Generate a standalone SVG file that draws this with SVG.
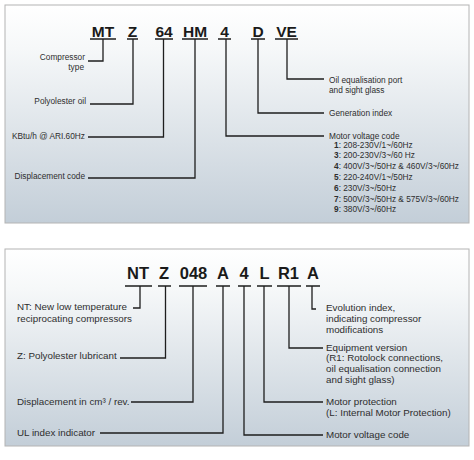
<svg xmlns="http://www.w3.org/2000/svg" width="474" height="460" viewBox="0 0 474 460">
<defs>
<linearGradient id="bg" x1="0" y1="0" x2="0" y2="1">
<stop offset="0" stop-color="#ffffff"/>
<stop offset="0.2" stop-color="#f6f8f9"/>
<stop offset="1" stop-color="#c3ced8"/>
</linearGradient>
<style>
.panel{fill:url(#bg);stroke:#b4b4b4;stroke-width:1}
.code{font-family:"Liberation Sans",Arial,sans-serif;font-weight:bold;fill:#1a1a1a;text-anchor:middle}
.c1{font-size:15.5px}
.c2{font-size:16.5px}
.lab{font-family:"Liberation Sans",Arial,sans-serif;fill:#2e2e2e}
.l1{font-size:8.3px}
.l2{font-size:9.8px}
.r{text-anchor:end}
.b{font-weight:bold}
.ln{fill:none;stroke:#1e1e1e;stroke-width:1.3}
</style>
</defs>
<rect x="0" y="0" width="474" height="460" fill="#ffffff"/>
<rect class="panel" x="5" y="5" width="464" height="218"/>
<rect class="panel" x="5" y="249" width="464" height="197"/>

<g id="connectors">
<path class="ln" d="M90 39H116 M127 39H138 M155 39H173 M182 39H208 M218 39H231 M251 39H265 M275 39H298"/>
<path class="ln" d="M103 39V61H88"/>
<path class="ln" d="M133 39V104H90"/>
<path class="ln" d="M163.5 39V137H88"/>
<path class="ln" d="M195 39V178H88"/>
<path class="ln" d="M226 39V136H324"/>
<path class="ln" d="M258 39V113H324"/>
<path class="ln" d="M287 39V79H324"/>
<path class="ln" d="M125 286H152 M158 286H171 M179 286H207 M216 286H230 M238 286H251 M257 286H272 M277 286H301 M306 286H320"/>
<path class="ln" d="M140 286V308H133"/>
<path class="ln" d="M165.5 286V358H120"/>
<path class="ln" d="M193 286V402H131"/>
<path class="ln" d="M223 286V433H100"/>
<path class="ln" d="M244 286V435H323"/>
<path class="ln" d="M264 286V402H323"/>
<path class="ln" d="M289 286V348H323"/>
<path class="ln" d="M312 286V309H316"/>
</g>

<g id="code-MT"><text class="code c1" x="103" y="37">MT</text></g>
<g id="code-Z"><text class="code c1" x="132.5" y="37">Z</text></g>
<g id="code-64"><text class="code c1" x="164" y="37">64</text></g>
<g id="code-HM"><text class="code c1" x="195" y="37">HM</text></g>
<g id="code-4"><text class="code c1" x="224.5" y="37">4</text></g>
<g id="code-D"><text class="code c1" x="258" y="37">D</text></g>
<g id="code-VE"><text class="code c1" x="286.5" y="37">VE</text></g>

<g id="label-compressor-type"><text class="lab l1 r" x="85" y="60">Compressor</text><text class="lab l1 r" x="84" y="70">type</text></g>
<g id="label-polyolester-oil"><text class="lab l1 r" x="86" y="104">Polyolester oil</text></g>
<g id="label-kbtu"><text class="lab l1 r" x="85" y="139">KBtu/h @ ARI.60Hz</text></g>
<g id="label-displacement-code"><text class="lab l1 r" x="85" y="179">Displacement code</text></g>
<g id="label-oil-eq"><text class="lab l1" x="329" y="83">Oil equalisation port</text><text class="lab l1" x="329" y="92.5">and sight glass</text></g>
<g id="label-generation"><text class="lab l1" x="329" y="116">Generation index</text></g>
<g id="label-motor-voltage">
<text class="lab l1" x="329" y="139">Motor voltage code</text>
<text class="lab l1" x="334" y="147.5"><tspan class="b">1</tspan>: 208-230V/1~/60Hz</text>
<text class="lab l1" x="334" y="158.3"><tspan class="b">3</tspan>: 200-230V/3~/60 Hz</text>
<text class="lab l1" x="334" y="169.1"><tspan class="b">4</tspan>: 400V/3~/50Hz &amp; 460V/3~/60Hz</text>
<text class="lab l1" x="334" y="179.9"><tspan class="b">5</tspan>: 220-240V/1~/50Hz</text>
<text class="lab l1" x="334" y="190.7"><tspan class="b">6</tspan>: 230V/3~/50Hz</text>
<text class="lab l1" x="334" y="201.5"><tspan class="b">7</tspan>: 500V/3~/50Hz &amp; 575V/3~/60Hz</text>
<text class="lab l1" x="334" y="212.3"><tspan class="b">9</tspan>: 380V/3~/60Hz</text>
</g>

<g id="code-NT"><text class="code c2" x="138" y="279">NT</text></g>
<g id="code-Z2"><text class="code c2" x="164" y="279">Z</text></g>
<g id="code-048"><text class="code c2" x="193.5" y="279">048</text></g>
<g id="code-A"><text class="code c2" x="223" y="279">A</text></g>
<g id="code-4b"><text class="code c2" x="244" y="279">4</text></g>
<g id="code-L"><text class="code c2" x="264.5" y="279">L</text></g>
<g id="code-R1"><text class="code c2" x="288.5" y="279">R1</text></g>
<g id="code-A2"><text class="code c2" x="313" y="279">A</text></g>

<g id="label-nt"><text class="lab l2" x="17" y="310">NT: New low temperature</text><text class="lab l2" x="17" y="321.5">reciprocating compressors</text></g>
<g id="label-z-lubricant"><text class="lab l2" x="17" y="358.5">Z: Polyolester lubricant</text></g>
<g id="label-displacement"><text class="lab l2" x="17" y="404.5">Displacement in cm³ / rev.</text></g>
<g id="label-ul"><text class="lab l2" x="17" y="435.5">UL index indicator</text></g>
<g id="label-evolution"><text class="lab l2" x="326" y="310.5">Evolution index,</text><text class="lab l2" x="326" y="321.5">indicating compressor</text><text class="lab l2" x="326" y="332.5">modifications</text></g>
<g id="label-equipment"><text class="lab l2" x="326" y="350.5">Equipment version</text><text class="lab l2" x="326" y="361.3">(R1: Rotolock connections,</text><text class="lab l2" x="326" y="372.1">oil equalisation connection</text><text class="lab l2" x="326" y="382.9">and sight glass)</text></g>
<g id="label-motor-protection"><text class="lab l2" x="326" y="404.5">Motor protection</text><text class="lab l2" x="326" y="415.5">(L: Internal Motor Protection)</text></g>
<g id="label-motor-voltage2"><text class="lab l2" x="326" y="437.5">Motor voltage code</text></g>
</svg>
